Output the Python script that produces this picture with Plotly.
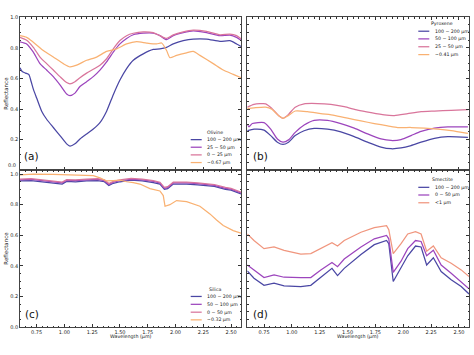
import plotly.graph_objects as go

W, H = 474, 355

# ---------------- data ----------------
# Olivine (panel a)
OL_NAMES = ["100 − 200 µm", "25 − 50 µm", "0 − 25 µm", "∼0.67 µm"]
OL_WL_1 = [0.60, 0.62, 0.65, 0.68, 0.70, 0.72, 0.75, 0.795, 0.84, 0.90, 0.96, 1.02, 1.05, 1.095, 1.14, 1.20, 1.26,
           1.32, 1.38, 1.44, 1.50, 1.56, 1.62, 1.71, 1.80, 1.86, 1.92, 1.98, 2.07, 2.16, 2.28, 2.40, 2.49, 2.55, 2.59]
OL_R_1 = [0.67, 0.645, 0.635, 0.625, 0.58, 0.53, 0.472, 0.386, 0.333, 0.279, 0.226, 0.172, 0.157, 0.172, 0.204,
          0.237, 0.269, 0.311, 0.386, 0.494, 0.59, 0.665, 0.719, 0.761, 0.79, 0.794, 0.804, 0.826, 0.847, 0.858,
          0.858, 0.843, 0.847, 0.826, 0.81]
OL_WL_23 = [0.60, 0.66, 0.72, 0.78, 0.84, 0.90, 0.96, 1.02, 1.05, 1.095, 1.14, 1.20, 1.26, 1.32, 1.38, 1.44, 1.50,
            1.56, 1.62, 1.71, 1.80, 1.86, 1.92, 1.98, 2.07, 2.16, 2.28, 2.40, 2.49, 2.55, 2.59]
OL_R_2 = [0.84, 0.826, 0.772, 0.697, 0.655, 0.612, 0.558, 0.498, 0.487, 0.504, 0.547, 0.579, 0.612, 0.655, 0.708,
          0.772, 0.826, 0.862, 0.886, 0.896, 0.896, 0.88, 0.854, 0.88, 0.90, 0.912, 0.90, 0.88, 0.884, 0.869, 0.85]
OL_R_3 = [0.869, 0.85, 0.804, 0.74, 0.697, 0.655, 0.612, 0.573, 0.565, 0.579, 0.605, 0.635, 0.66, 0.687, 0.729,
          0.794, 0.848, 0.88, 0.896, 0.905, 0.90, 0.88, 0.862, 0.885, 0.905, 0.916, 0.908, 0.886, 0.89, 0.88, 0.86]
OL_WL_4 = [0.60, 0.66, 0.72, 0.81, 0.90, 0.99, 1.05, 1.11, 1.20, 1.29, 1.38, 1.47, 1.56, 1.65, 1.74, 1.83, 1.875,
           1.92, 1.95, 2.01, 2.10, 2.16, 2.22, 2.34, 2.43, 2.52, 2.59]
OL_R_4 = [0.88, 0.869, 0.837, 0.783, 0.74, 0.697, 0.676, 0.687, 0.719, 0.74, 0.777, 0.794, 0.826, 0.841, 0.832,
          0.826, 0.832, 0.783, 0.736, 0.751, 0.768, 0.777, 0.751, 0.697, 0.655, 0.627, 0.605]

# Pyroxene (panel b)
PX_NAMES = ["100 − 200 µm", "50 − 100 µm", "25 − 50 µm", "∼0.41 µm"]
PX_WL_1 = [0.60, 0.66, 0.75, 0.81, 0.87, 0.92, 0.97, 1.03, 1.11, 1.20, 1.32, 1.44, 1.56, 1.68, 1.80, 1.89, 1.98,
           2.07, 2.16, 2.28, 2.40, 2.58]
PX_R_1 = [0.258, 0.268, 0.262, 0.226, 0.183, 0.168, 0.183, 0.226, 0.258, 0.273, 0.268, 0.25, 0.219, 0.183, 0.151,
          0.14, 0.145, 0.161, 0.183, 0.208, 0.219, 0.215]
PX_WL_2 = [0.60, 0.615, 0.645, 0.75, 0.81, 0.87, 0.92, 0.97, 1.03, 1.11, 1.20, 1.32, 1.44, 1.56, 1.68, 1.80, 1.89,
           1.98, 2.07, 2.16, 2.28, 2.40, 2.58]
PX_R_2 = [0.30, 0.283, 0.305, 0.311, 0.268, 0.204, 0.183, 0.198, 0.247, 0.295, 0.326, 0.326, 0.305, 0.275, 0.237,
          0.204, 0.194, 0.20, 0.226, 0.254, 0.275, 0.283, 0.283]
PX_WL_3 = [0.60, 0.66, 0.765, 0.82, 0.885, 0.92, 0.97, 1.03, 1.11, 1.23, 1.35, 1.47, 1.59, 1.71, 1.83, 1.92, 2.04,
           2.16, 2.28, 2.43, 2.58]
PX_R_3 = [0.412, 0.43, 0.434, 0.404, 0.354, 0.339, 0.365, 0.412, 0.434, 0.436, 0.43, 0.415, 0.393, 0.376, 0.361,
          0.357, 0.37, 0.383, 0.387, 0.391, 0.396]
PX_WL_4 = [0.60, 0.66, 0.765, 0.82, 0.885, 0.92, 0.97, 1.03, 1.14, 1.26, 1.38, 1.50, 1.62, 1.74, 1.86, 1.95, 2.07,
           2.19, 2.31, 2.43, 2.58]
PX_R_4 = [0.404, 0.408, 0.412, 0.398, 0.354, 0.339, 0.358, 0.387, 0.383, 0.37, 0.359, 0.34, 0.322, 0.305, 0.29,
          0.279, 0.279, 0.275, 0.268, 0.258, 0.24]

# Silica (panel c)
SI_NAMES = ["100 − 200 µm", "50 − 100 µm", "0 − 50 µm", "∼0.32 µm"]
SI_WL = [0.60, 0.70, 0.80, 0.87, 0.95, 0.98, 1.02, 1.10, 1.20, 1.30, 1.36, 1.40, 1.44, 1.50, 1.60, 1.70, 1.80,
         1.86, 1.90, 1.93, 1.98, 2.10, 2.20, 2.30, 2.35, 2.45, 2.50, 2.59]
SI_R_1 = [0.955, 0.958, 0.95, 0.945, 0.94, 0.935, 0.952, 0.95, 0.955, 0.958, 0.95, 0.925, 0.94, 0.95, 0.96, 0.955,
          0.945, 0.935, 0.90, 0.905, 0.935, 0.935, 0.93, 0.925, 0.92, 0.90, 0.895, 0.87]
SI_R_2 = [0.962, 0.965, 0.957, 0.952, 0.947, 0.942, 0.958, 0.957, 0.962, 0.965, 0.957, 0.932, 0.947, 0.957, 0.966,
          0.962, 0.952, 0.942, 0.907, 0.912, 0.942, 0.942, 0.937, 0.932, 0.927, 0.907, 0.902, 0.877]
SI_R_3 = [0.967, 0.97, 0.962, 0.958, 0.953, 0.948, 0.964, 0.962, 0.967, 0.97, 0.962, 0.938, 0.952, 0.962, 0.972,
          0.967, 0.957, 0.947, 0.913, 0.918, 0.947, 0.947, 0.942, 0.937, 0.932, 0.913, 0.907, 0.882]
SI_WL_4 = [0.60, 0.72, 0.90, 1.02, 1.15, 1.26, 1.32, 1.38, 1.44, 1.50, 1.56, 1.62, 1.68, 1.77, 1.86, 1.89, 1.906,
           1.95, 2.01, 2.10, 2.22, 2.31, 2.37, 2.43, 2.52, 2.59]
SI_R_4 = [0.995, 1.0, 0.998, 0.995, 0.992, 0.99, 0.975, 0.955, 0.958, 0.96, 0.95, 0.945, 0.935, 0.905, 0.89, 0.86,
          0.79, 0.80, 0.827, 0.82, 0.79, 0.74, 0.70, 0.664, 0.631, 0.614]

# Smectite (panel d)
SM_NAMES = ["100 − 200 µm", "0 − 50 µm", "<1 µm"]
SM_WL = [0.60, 0.66, 0.75, 0.84, 0.93, 1.08, 1.17, 1.26, 1.36, 1.41, 1.47, 1.62, 1.74, 1.85, 1.87, 1.91, 1.98,
         2.04, 2.11, 2.16, 2.21, 2.27, 2.34, 2.43, 2.52, 2.59]
SM_R_1 = [0.367, 0.32, 0.273, 0.288, 0.27, 0.264, 0.273, 0.324, 0.384, 0.337, 0.384, 0.475, 0.539, 0.566, 0.545,
          0.298, 0.384, 0.466, 0.53, 0.524, 0.406, 0.453, 0.363, 0.309, 0.266, 0.217]
SM_R_2 = [0.406, 0.374, 0.324, 0.341, 0.326, 0.324, 0.324, 0.374, 0.423, 0.395, 0.445, 0.524, 0.577, 0.599, 0.577,
          0.358, 0.431, 0.513, 0.566, 0.56, 0.466, 0.502, 0.406, 0.352, 0.298, 0.251]
SM_R_3 = [0.609, 0.566, 0.513, 0.524, 0.502, 0.477, 0.481, 0.513, 0.551, 0.53, 0.566, 0.62, 0.65, 0.663, 0.637,
          0.481, 0.545, 0.609, 0.624, 0.609, 0.496, 0.53, 0.453, 0.417, 0.374, 0.331]

PANEL_TAGS = ["(a)", "(b)", "(c)", "(d)"]
LEGEND_TITLES = ["Olivine", "Pyroxene", "Silica", "Smectite"]
X_TICKS = [0.75, 1.00, 1.25, 1.50, 1.75, 2.00, 2.25, 2.50]
Y_TICKS = [0.0, 0.2, 0.4, 0.6, 0.8, 1.0]

# ---------------- styling ----------------
C_BLUE = "#4a47a4"
C_PURPLE = "#9c45bd"
C_PINK = "#d9759b"
C_ORANGE = "#f9b172"
C_SALMON = "#f0967e"
FONT = "DejaVu Sans"
TXT = "#222222"
LW = 1.25


def px_x(x):
    return x / W


def px_y(y):
    return 1 - y / H


panels = [
    dict(ax="", smooth=True,
         series=[(OL_WL_1, OL_R_1, C_BLUE), (OL_WL_23, OL_R_2, C_PURPLE), (OL_WL_23, OL_R_3, C_PINK),
                 (OL_WL_4, OL_R_4, C_ORANGE)], names=OL_NAMES),
    dict(ax="2", smooth=True,
         series=[(PX_WL_1, PX_R_1, C_BLUE), (PX_WL_2, PX_R_2, C_PURPLE), (PX_WL_3, PX_R_3, C_PINK),
                 (PX_WL_4, PX_R_4, C_ORANGE)], names=PX_NAMES),
    dict(ax="3", smooth=False,
         series=[(SI_WL, SI_R_1, C_BLUE), (SI_WL, SI_R_2, C_PURPLE), (SI_WL, SI_R_3, C_PINK),
                 (SI_WL_4, SI_R_4, C_ORANGE)], names=SI_NAMES),
    dict(ax="4", smooth=False,
         series=[(SM_WL, SM_R_1, C_BLUE), (SM_WL, SM_R_2, C_PURPLE), (SM_WL, SM_R_3, C_SALMON)],
         names=SM_NAMES),
]

fig = go.Figure()
for p in panels:
    for (wl, r, c), nm in zip(p["series"], p["names"]):
        line = dict(color=c, width=LW)
        if p["smooth"]:
            line.update(shape="spline", smoothing=0.6)
        fig.add_trace(go.Scatter(x=wl, y=r, mode="lines", name=nm, showlegend=False, line=line,
                                 xaxis="x" + p["ax"], yaxis="y" + p["ax"]))

# pixel geometry
XL = [(20, 241), (247.3, 469)]
YT = [(14.6, 170.0), (170.0, 329.7)]

axis_common = dict(ticks="inside", ticklen=3, tickwidth=0.7, tickcolor="#333", showline=True,
                   linecolor="#444", linewidth=0.8, mirror="allticks", showgrid=False, zeroline=False,
                   tickfont=dict(size=5, color=TXT, family=FONT))

layout_axes = {}
for i, p in enumerate(panels):
    col, row = i % 2, i // 2
    xk = "xaxis" + p["ax"]
    yk = "yaxis" + p["ax"]
    layout_axes[xk] = dict(axis_common, domain=[px_x(XL[col][0]), px_x(XL[col][1])], range=[0.6, 2.59],
                           anchor="y" + p["ax"], tickmode="array", tickvals=X_TICKS,
                           ticktext=["%.2f" % v for v in X_TICKS], showticklabels=(row == 1),
                           minor=dict(ticks="inside", ticklen=1.5, tickwidth=0.5, tickcolor="#333",
                                      tickmode="linear", tick0=0, dtick=0.05, showgrid=False))
    yrange = [0, 1.0] if row == 0 else [0, 1.026]
    ytext = ["%.1f" % v for v in Y_TICKS]
    if row == 0:
        ytext[0] = ""
    layout_axes[yk] = dict(axis_common, domain=[px_y(YT[row][1]), px_y(YT[row][0])], range=yrange,
                           anchor="x" + p["ax"], tickmode="array", tickvals=Y_TICKS, ticktext=ytext,
                           showticklabels=(col == 0),
                           minor=dict(ticks="inside", ticklen=1.5, tickwidth=0.5, tickcolor="#333",
                                      tickmode="linear", tick0=0, dtick=0.05, showgrid=False))

annotations = []
shapes = []

# nudged 0.0 label of panel (a)
annotations.append(dict(x=px_x(17.5), y=px_y(164.3), xref="paper", yref="paper", text="0.0", showarrow=False,
                        xanchor="right", yanchor="middle", font=dict(size=5, color=TXT, family=FONT)))

# axis titles
for yc in [(YT[0][0] + YT[0][1]) / 2, (YT[1][0] + YT[1][1]) / 2]:
    annotations.append(dict(x=px_x(6), y=px_y(yc), xref="paper", yref="paper", text="Reflectance",
                            textangle=-90, showarrow=False, xanchor="center", yanchor="middle",
                            font=dict(size=5.5, color=TXT, family=FONT)))
for xc in [(XL[0][0] + XL[0][1]) / 2, (XL[1][0] + XL[1][1]) / 2]:
    annotations.append(dict(x=px_x(xc), y=px_y(339.5), xref="paper", yref="paper", text="Wavelength (µm)",
                            showarrow=False, xanchor="center", yanchor="middle",
                            font=dict(size=4.8, color=TXT, family=FONT)))

# panel tags
tag_pos = [(32, 155.5), (260, 155.5), (32, 316), (260, 316)]
for t, (x, y) in zip(PANEL_TAGS, tag_pos):
    annotations.append(dict(x=px_x(x), y=px_y(y), xref="paper", yref="paper", text=t, showarrow=False,
                            xanchor="center", yanchor="middle", font=dict(size=10.5, color="#111", family=FONT)))

# legends (drawn as small swatches + labels)
leg_geom = [
    dict(x0=190.7, title_y=131.7, rows=[139.0, 146.7, 154.5, 162.3]),
    dict(x0=418.3, title_y=21.0, rows=[28.7, 36.5, 44.5, 52.5]),
    dict(x0=190.7, title_y=291.7, rows=[298.5, 306.5, 314.5, 322.3]),
    dict(x0=418.3, title_y=180.0, rows=[187.5, 195.3, 203.2]),
]
for p, g, title in zip(panels, leg_geom, LEGEND_TITLES):
    annotations.append(dict(x=px_x(g["x0"] + 24), y=px_y(g["title_y"]), xref="paper", yref="paper", text=title,
                            showarrow=False, xanchor="center", yanchor="middle",
                            font=dict(size=4.7, color=TXT, family=FONT)))
    for (wl, r, c), nm, yy in zip(p["series"], p["names"], g["rows"]):
        shapes.append(dict(type="line", xref="paper", yref="paper", x0=px_x(g["x0"]), x1=px_x(g["x0"] + 11),
                           y0=px_y(yy), y1=px_y(yy), line=dict(color=c, width=LW)))
        annotations.append(dict(x=px_x(g["x0"] + 14.5), y=px_y(yy), xref="paper", yref="paper", text=nm,
                                showarrow=False, xanchor="left", yanchor="middle",
                                font=dict(size=4.7, color=TXT, family=FONT)))

fig.update_layout(width=W, height=H, autosize=False, margin=dict(l=0, r=0, t=0, b=0),
                  paper_bgcolor="white", plot_bgcolor="white", showlegend=False,
                  annotations=annotations, shapes=shapes, **layout_axes)

fig.write_html("out.html", config={"displayModeBar": False})

# remove the browser's default page margin so the figure sits at the window origin
with open("out.html", "r", encoding="utf-8") as f:
    html = f.read()
html = html.replace("<head>", "<head><style>html,body{margin:0;padding:0;overflow:hidden;}</style>", 1)
with open("out.html", "w", encoding="utf-8") as f:
    f.write(html)
